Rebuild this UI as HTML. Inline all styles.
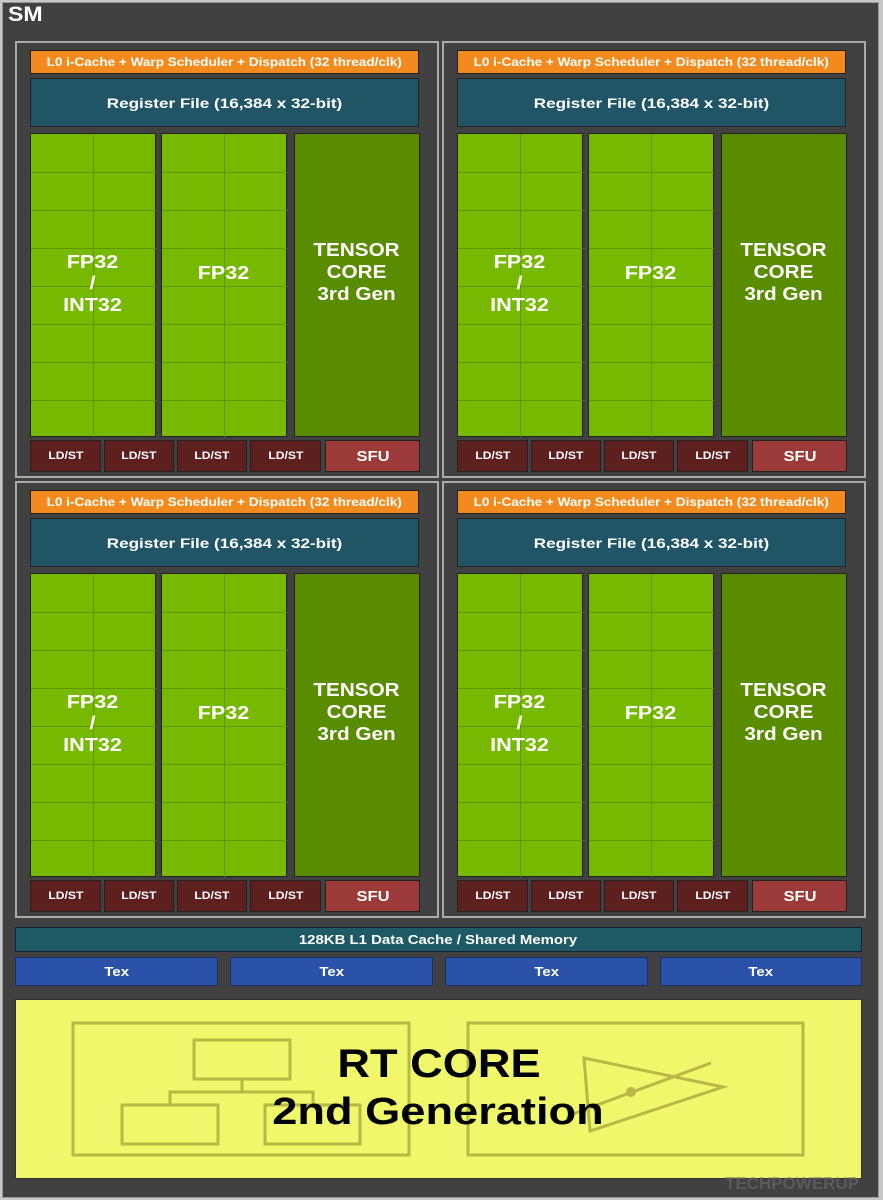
<!DOCTYPE html>
<html><head><meta charset="utf-8"><style>
body{margin:0;width:883px;height:1200px;background:#c8c8c8;position:relative;overflow:hidden;font-family:"Liberation Sans",sans-serif;font-weight:bold}
div{position:absolute;box-sizing:border-box}
.t{display:flex;align-items:center;justify-content:center;color:#fff;text-align:center;white-space:nowrap}
.t span{display:inline-block}
</style></head><body>
<div style="left:2px;top:2px;width:877px;height:1196px;background:#414141;border:1px solid #999"></div>
<div style="left:8px;top:3px;color:#fff;font-size:21px;transform:scaleX(1.1);transform-origin:left">SM</div>
<div id="q"></div>
<div class="t" style="left:15px;top:927px;width:847px;height:25px;background:#1d5a66;border:1px solid #123;font-size:13px"><span style="transform:scaleX(1.15)">128KB L1 Data Cache / Shared Memory</span></div>
<div class="t" style="left:15px;top:957px;width:203px;height:29px;background:#2a52a8;border:1px solid #1a2f60;font-size:13px"><span style="transform:scaleX(1.15)">Tex</span></div>
<div class="t" style="left:230px;top:957px;width:203px;height:29px;background:#2a52a8;border:1px solid #1a2f60;font-size:13px"><span style="transform:scaleX(1.15)">Tex</span></div>
<div class="t" style="left:445px;top:957px;width:203px;height:29px;background:#2a52a8;border:1px solid #1a2f60;font-size:13px"><span style="transform:scaleX(1.15)">Tex</span></div>
<div class="t" style="left:660px;top:957px;width:202px;height:29px;background:#2a52a8;border:1px solid #1a2f60;font-size:13px"><span style="transform:scaleX(1.15)">Tex</span></div>
<div style="left:15px;top:999px;width:847px;height:180px;background:#f1f76a;border:1px solid #333"></div>
<svg style="position:absolute;left:0;top:0" width="883" height="1200">
<g fill="none" stroke="#b8b845" stroke-width="3">
<rect x="73" y="1023" width="336" height="132"/>
<rect x="468" y="1023" width="335" height="132"/>
<rect x="194" y="1040" width="96" height="39"/>
<rect x="122" y="1105" width="96" height="39"/>
<rect x="265" y="1105" width="95" height="39"/>
<path d="M242 1079V1092M170 1105V1092H313V1105"/>
<path d="M584 1058L723 1087L590 1131Z"/>
<path d="M570 1115L711 1063"/>
</g>
<circle cx="631" cy="1092" r="5" fill="#b8b845"/>
<text x="0" y="0" transform="translate(439,1077) scale(1.13,1)" font-size="40" font-family="Liberation Sans" font-weight="bold" text-anchor="middle">RT CORE</text>
<text x="0" y="0" transform="translate(438,1124) scale(1.19,1)" font-size="38" font-family="Liberation Sans" font-weight="bold" text-anchor="middle">2nd Generation</text>
<text x="792" y="1189" font-size="17" font-family="Liberation Sans" font-weight="bold" fill="#5a5a5a" text-anchor="middle">TECHPOWERUP</text>
</svg>
<script>
var h='';
[[0,0],[427,0],[0,440],[427,440]].forEach(function(o){
var x=o[0],y=o[1];
h+='<div style="left:'+(15+x)+'px;top:'+(41+y)+'px;width:424px;height:437px;border:2px solid #aaa"></div>';
h+='<div class="t" style="left:'+(30+x)+'px;top:'+(50+y)+'px;width:389px;height:24px;background:#f28a1e;border:1px solid #222;font-size:12px"><span style="transform:scaleX(1.13)">L0 i-Cache + Warp Scheduler + Dispatch (32 thread/clk)</span></div>';
h+='<div class="t" style="left:'+(30+x)+'px;top:'+(78+y)+'px;width:389px;height:49px;background:#1f5565;border:1px solid #222;font-size:14px"><span style="transform:scaleX(1.22)">Register File (16,384 x 32-bit)</span></div>';
[[30,'FP32<br>/<br>INT32'],[161,'FP32<br><br>']].forEach(function(c){
var g='';for(var i=1;i<8;i++)g+='<div style="left:0;top:'+(i*38)+'px;width:125px;height:1px;background:#5e9600"></div>';
g+='<div style="left:62px;top:0;width:1px;height:303px;background:#5e9600"></div>';
h+='<div style="left:'+(c[0]+x)+'px;top:'+(133+y)+'px;width:126px;height:304px;background:#76b900;border:1px solid #222">'+g+'<div class="t" style="left:0;top:115px;width:124px;height:70px;font-size:18px;line-height:21.5px"><span style="transform:scaleX(1.2)">'+c[1]+'</span></div></div>';
});
h+='<div class="t" style="left:'+(294+x)+'px;top:'+(133+y)+'px;width:126px;height:304px;background:#5a8c00;border:1px solid #222;font-size:18px;line-height:22px;align-items:flex-start;padding-top:105px"><span style="transform:scaleX(1.15)">TENSOR<br>CORE<br>3rd Gen</span></div>';
[[30,71],[104,70],[177,70],[250,71]].forEach(function(c){
h+='<div class="t" style="left:'+(c[0]+x)+'px;top:'+(440+y)+'px;width:'+c[1]+'px;height:32px;background:#5e1f1f;border:1px solid #222;font-size:11px"><span style="transform:scaleX(1.1)">LD/ST</span></div>';});
h+='<div class="t" style="left:'+(325+x)+'px;top:'+(440+y)+'px;width:95px;height:32px;background:#9c3a3a;border:1px solid #222;font-size:15px"><span style="transform:scaleX(1.1)">SFU</span></div>';
});
document.getElementById('q').outerHTML=h;
</script>
</body></html>
